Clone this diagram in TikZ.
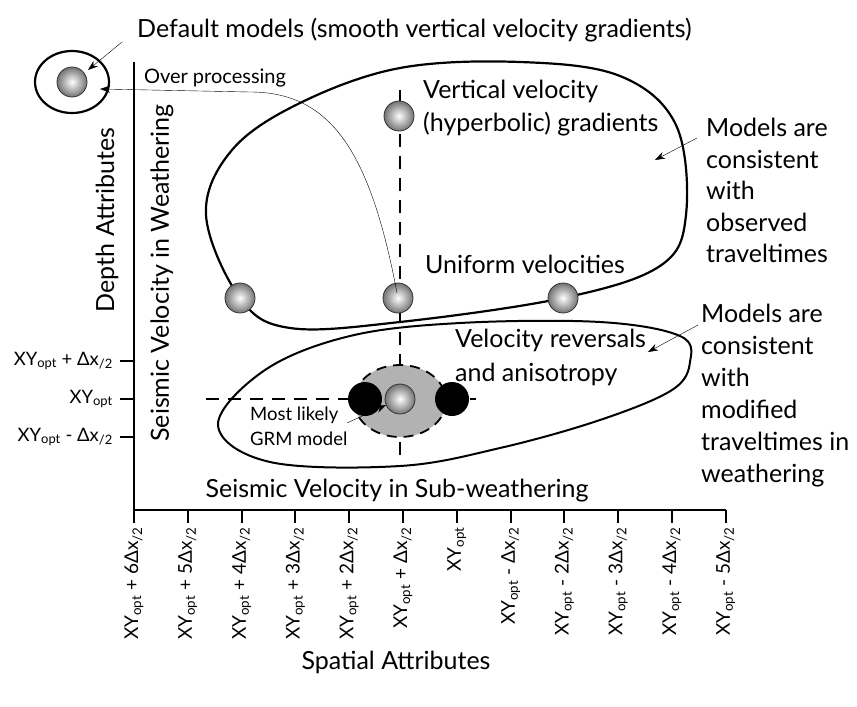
\documentclass[tikz,border=0pt]{standalone}
\usepackage{fontspec}
\setmainfont{Lato}
\usetikzlibrary{arrows.meta}
\newcommand{\xyo}{XY\textsubscript{opt}}
\newcommand{\dxh}{Δx\textsubscript{/2}}
\begin{document}
\begin{tikzpicture}[x=1pt,y=-1pt,
  ball/.style={circle,minimum size=30pt,inner sep=0pt,draw=black!80,thick,inner color=white,outer color=black!55},
  blk/.style={circle,fill=black,minimum size=34pt,inner sep=0pt},
  loop/.style={line width=2.2pt},
  dsh/.style={line width=2pt,dash pattern=on 13pt off 9pt},
  lab/.style={font=\fontsize{25}{29}\selectfont,inner sep=0pt},
  tlab/.style={font=\fontsize{19}{20}\selectfont,inner sep=0pt},
  arr/.style={-{Stealth[length=10pt,width=7pt]},thin},
  ax/.style={line width=2pt}]
\useasboundingbox (0,0) rectangle (857,707);
% axes
\coordinate (o) at (134,510);
\coordinate (ytop) at (134,62);
\coordinate (xend) at (726,510);
\draw[ax] (ytop) -- (o) -- (xend);
% y ticks
\foreach \y/\t in {361/{\xyo{} + \dxh},399/{\xyo},437/{\xyo{} - \dxh}}{
  \draw[ax] (120,\y) -- (134,\y);
  \node[tlab,font=\fontsize{18.5}{20}\selectfont,anchor=east] (yl\y) at (113,\y) {\t};
}
% x ticks
\foreach \i/\t in {0/{\xyo{} + 6\dxh},1/{\xyo{} + 5\dxh},2/{\xyo{} + 4\dxh},3/{\xyo{} + 3\dxh},4/{\xyo{} + 2\dxh},5/{\xyo{} + \dxh},6/{\xyo},7/{\xyo{} - \dxh},8/{\xyo{} - 2\dxh},9/{\xyo{} - 3\dxh},10/{\xyo{} - 4\dxh},11/{\xyo{} - 5\dxh}}{
  \pgfmathsetmacro\xx{134+\i*53.8}
  \draw[ax] (\xx,510) -- (\xx,523);
  \node[tlab,rotate=90,anchor=east] (xl\i) at (\xx,527) {\t};
}
% dashed lines
\draw[dsh] (400,90) -- (400,455);
\draw[dsh] (206,399) -- (476,399);
% gray ellipse
\fill[black!30] (400,401) ellipse [x radius=46, y radius=36];
\draw[dsh,line width=1.8pt,dash pattern=on 10pt off 7pt] (400,401) ellipse [x radius=46, y radius=36];
% upper loop
\draw[loop] plot[smooth cycle,tension=0.6] coordinates{(563,298)(400,322)(290,328)(240,298)(206,215)(232,150)(300,103)(400,68)(520,62)(620,76)(676,125)(686,215)(660,266)};
% lower loop
\draw[loop,line width=2pt] plot[smooth cycle,tension=0.6] coordinates{(218,425)(265,370)(350,336)(460,323)(600,322)(680,336)(690,362)(672,390)(600,420)(500,448)(400,466)(270,462)};
% default ellipse
\draw[line width=2.2pt] (72,82) ellipse [x radius=37, y radius=31];
% balls
\node[ball] (b0) at (72,82) {};
\node[ball] (b1) at (399,116) {};
\node[ball] (b2) at (240,298) {};
\node[ball] (b3) at (398,298) {};
\node[ball] (b4) at (563,298) {};
\node[blk] (k1) at (365,399) {};
\node[blk] (k2) at (452,399) {};
\node[ball] (b5) at (400,399) {};
% over processing
\coordinate (op) at (397,293);
\draw[arr] (op) .. controls (370,150) and (330,92) .. (250,92) -- (100,89);
\node[tlab,font=\fontsize{20}{22}\selectfont] (opt) at (215,78) {Over processing};
% labels
\node[lab,anchor=west] (t0) at (137,30) {Default models (smooth vertical velocity gradients)};
\coordinate (a0) at (122,42);
\draw[arr] (a0) -- (88,70);
\node[lab,anchor=north west,align=left,font=\fontsize{25}{33}\selectfont] (t1) at (423,80) {Vertical velocity\\(hyperbolic) gradients};
\node[lab,anchor=west] (t2) at (425,264) {Uniform velocities};
\node[lab,anchor=north west,align=left,font=\fontsize{25}{34}\selectfont] (t3) at (455,329) {Velocity reversals\\and anisotropy};
\node[lab,anchor=north west,align=left,font=\fontsize{25}{31.5}\selectfont] (t4) at (706,118) {Models are\\consistent\\with\\observed\\traveltimes};
\coordinate (a4) at (697,138);
\draw[arr] (a4) -- (655,160);
\node[lab,anchor=north west,align=left,font=\fontsize{25}{32}\selectfont] (t5) at (701,304) {Models are\\consistent\\with\\modified\\traveltimes in\\weathering};
\coordinate (a5) at (698,325);
\draw[arr] (a5) -- (648,352);
\node[tlab,anchor=north west,align=left,font=\fontsize{18.5}{25}\selectfont] (t6) at (250,407) {Most likely\\GRM model};
\coordinate (a6) at (347,423);
\draw[arr] (a6) -- (386,405);
\node[lab] (t7) at (397,491) {Seismic Velocity in Sub-weathering};
\node[lab] (t8) at (396,662) {Spatial Attributes};
\node[lab,rotate=90] (t9) at (107,220) {Depth Attributes};
\node[lab,rotate=90] (t10) at (162,273) {Seismic Velocity in Weathering};
\end{tikzpicture}
\end{document}
